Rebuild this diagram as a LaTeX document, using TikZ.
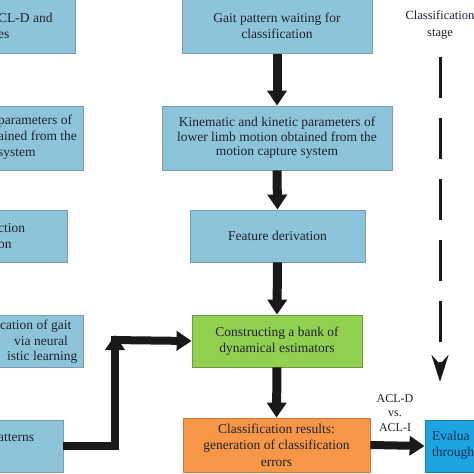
\documentclass[tikz,border=0pt]{standalone}
\usepackage{fontspec}
\setmainfont{Liberation Serif}
\usetikzlibrary{arrows.meta}
\definecolor{lblue}{HTML}{8EC4D9}
\definecolor{lblueb}{HTML}{7A9CAD}
\definecolor{lgreen}{HTML}{92D050}
\definecolor{lgreenb}{HTML}{6F9A45}
\definecolor{lorange}{HTML}{F79646}
\definecolor{lorangeb}{HTML}{C9783A}
\definecolor{bblue}{HTML}{1CA3E0}
\definecolor{bblueb}{HTML}{1A7FB0}
\definecolor{txt}{HTML}{1E2230}
\definecolor{navy}{HTML}{10305A}
\tikzset{
  box/.style={draw=#1, line width=0.8pt, inner sep=0pt, align=center, text=txt,
    font=\fontsize{13.5}{15.5}\selectfont},
  txtfrag/.style={inner sep=0pt, align=left, text=txt, font=\fontsize{13.5}{16}\selectfont},
  bigarrow/.style={line width=9pt, draw=black!90, -{Triangle[length=15pt,width=19pt]}},
  dashedarrow/.style={line width=3pt, dash pattern=on 41pt off 20pt, draw=black!90,
    -{Stealth[length=27pt,width=17pt,inset=9pt]}}
}
\begin{document}
\begin{tikzpicture}[x=1pt,y=-1pt]
\clip (0,0) rectangle (474,474);
\fill[white] (0,0) rectangle (474,474);
% center column
\node[box=lblueb, fill=lblue, minimum width=190pt, minimum height=55pt] (c1) at (277,26)
  {Gait pattern waiting for\\classification};
\node[box=lblueb, fill=lblue, minimum width=230pt, minimum height=64pt,
  font=\fontsize{13.5}{14.5}\selectfont] (c2) at (277,138)
  {Kinematic and kinetic parameters of\\lower limb motion obtained from the\\motion capture system};
\node[box=lblueb, fill=lblue, minimum width=175pt, minimum height=52pt] (c3) at (277.5,236)
  {Feature derivation};
\node[box=lgreenb, fill=lgreen, minimum width=170pt, minimum height=52pt] (c4) at (277,341)
  {Constructing a bank of\\dynamical estimators};
\node[box=lorangeb, fill=lorange, minimum width=187pt, minimum height=54pt,
  font=\fontsize{13.5}{16.5}\selectfont] (c5) at (276.5,445)
  {Classification results:\\generation of classification\\errors};
\node[box=bblueb, fill=bblue, minimum width=95pt, minimum height=52pt] (ev) at (472.5,446) {};
\node[txtfrag, text=navy, anchor=west] (evt) at (432,445) {Evalua\\through};
% left column (cropped)
\node[box=lblueb, fill=lblue, minimum width=175pt, minimum height=56pt] (l1) at (-12.5,25) {};
\node[box=lblueb, fill=lblue, minimum width=183pt, minimum height=64pt] (l2) at (-8.5,138) {};
\node[box=lblueb, fill=lblue, minimum width=167pt, minimum height=52pt] (l3) at (-16.5,236) {};
\node[box=lblueb, fill=lblue, minimum width=183pt, minimum height=52pt] (l4) at (-8.5,341) {};
\node[box=lblueb, fill=lblue, minimum width=163pt, minimum height=52pt] (l5) at (-18.5,446) {};
\node[txtfrag, anchor=west] (l1t) at (-2,26) {CL-D and\\es};
\node[txtfrag, anchor=west] (l2t) at (-2,137) {parameters of\\ained from the\\system};
\node[txtfrag, anchor=west] (l3t) at (-2,236) {ction\\on};
\node[txtfrag, anchor=west, font=\fontsize{13.5}{15.5}\selectfont] (l4t) at (0,342) {cation of gait\\\hspace*{14pt}via neural\\\hspace*{7pt}istic learning};
\node[txtfrag, anchor=west] (l5t) at (-2,438) {atterns};
% right side labels
\node[txtfrag, align=center, font=\fontsize{12.5}{17}\selectfont] (stage) at (440,25) {Classification\\stage};
\node[txtfrag, align=center, font=\fontsize{12}{14.5}\selectfont] (acl) at (395,413) {ACL-D\\vs.\\ACL-I};
% arrows
\draw[bigarrow] (c1.south) -- (c2.north);
\draw[bigarrow] (c2.south) -- (c3.north);
\draw[bigarrow] (c3.south) -- (c4.north);
\draw[bigarrow] (c4.south) -- (c5.north);
\draw[bigarrow, line width=8pt] (c5.east) -- (ev.west);
\coordinate (up) at (115,335);
\coordinate (hs) at (111,340);
\draw[bigarrow, line width=8pt] (l5.east) -| (up);
\draw[bigarrow, line width=8pt] (hs) -- (c4.west);
\coordinate (ds) at (440,57);
\coordinate (de) at (440,382);
\draw[dashedarrow] (ds) -- (de);
\end{tikzpicture}
\end{document}
